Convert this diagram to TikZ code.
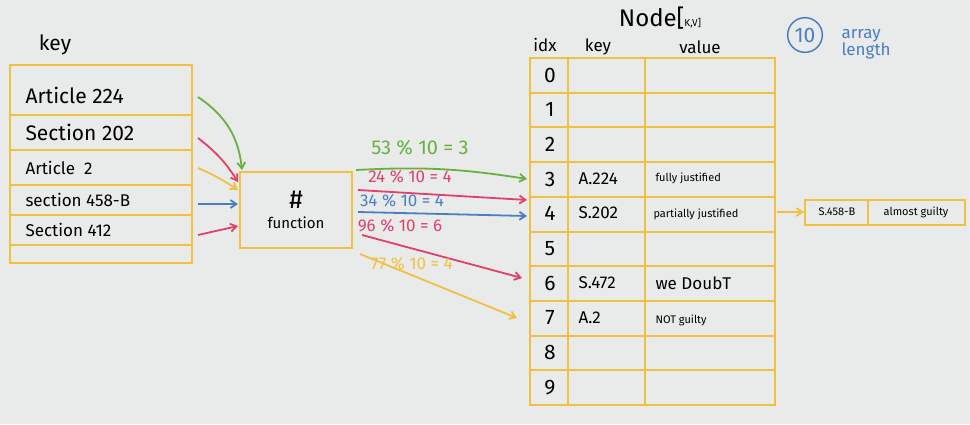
\documentclass[tikz,border=0pt]{standalone}
\usepackage{fontspec}
\setmainfont{Fira Sans}
\usetikzlibrary{arrows.meta}
\definecolor{ye}{HTML}{F0C040}
\definecolor{gr}{HTML}{6AB040}
\definecolor{pk}{HTML}{E0406A}
\definecolor{bl}{HTML}{4A7EC0}
\definecolor{bg}{HTML}{E9EBEA}
\begin{document}
\begin{tikzpicture}[x=1pt,y=-1pt,
  frame/.style={draw=ye,line width=2pt},
  arr/.style={line width=1.8pt,-{Straight Barb[length=6pt,width=8pt]}},
  lab/.style={font=\fontsize{17}{17}\selectfont},
  sm/.style={font=\fontsize{11}{11}\selectfont},
  txt/.style={font=\fontsize{21}{21}\selectfont}]
\useasboundingbox[fill=bg] (0,0) rectangle (970,424);
% key box
\draw[frame] (10,65) rectangle (192,263);
\foreach \y in {115,150,185,215,245} \draw[frame] (10,\y) -- (192,\y);
\node[txt] at (55,45) {key};
\node[txt,anchor=west] (k1) at (22,95) {Article 224};
\node[txt,anchor=west] (k2) at (22,132) {Section 202};
\node[lab,anchor=west] (k3) at (22,168) {Article\ \ 2};
\node[lab,anchor=west] (k4) at (22,200) {section 458-B};
\node[lab,anchor=west] (k5) at (22,230) {Section 412};
\coordinate (o1) at (198,97); \coordinate (o2) at (198,138);
\coordinate (o3) at (198,168); \coordinate (o4) at (198,204);
\coordinate (o5) at (198,235);
% hash
\node[frame,minimum width=112pt,minimum height=76pt,align=center] (h) at (296,210) {\fontsize{26}{26}\selectfont\#\\[8pt]\fontsize{15}{15}\selectfont function};
\coordinate (i1) at (242,170); \coordinate (i2) at (238,182); \coordinate (i3) at (238,190);
\coordinate (i4) at (238,204); \coordinate (i5) at (238,226);
\draw[arr,gr] (o1) to[bend left=25] (i1);
\draw[arr,pk] (o2) to[bend left=10] (i2);
\draw[arr,ye] (o3) to[bend left=5] (i3);
\draw[arr,bl] (o4) -- (i4);
\draw[arr,pk] (o5) -- (i5);
% table
\node[font=\fontsize{24}{24}\selectfont] at (660,18) {Node[\fontsize{10}{10}\selectfont K,V]};
\node[lab] at (545,45) {idx}; \node[lab] at (598,47) {key}; \node[lab] at (700,47) {value};
\draw[frame] (530,58) rectangle (775,405);
\draw[frame] (568,58) -- (568,405); \draw[frame] (645,58) -- (645,405);
\foreach \i in {1,...,9} \draw[frame] (530,{58+34.7*\i}) -- (775,{58+34.7*\i});
\foreach \i in {0,...,9} \node[txt] (r\i) at (550,{75+34.7*\i}) {\i};
\node[lab,anchor=west] at (575,179) {A.224}; \node[sm,anchor=west] at (652,178) {fully justified};
\node[lab,anchor=west] at (575,213) {S.202}; \node[sm,anchor=west] at (650,214) {partially justified};
\node[lab,anchor=west] at (575,283) {S.472}; \node[lab,anchor=west] at (652,283) {we DoubT};
\node[lab,anchor=west] at (575,318) {A.2}; \node[sm,anchor=west] at (652,320) {NOT guilty};
\node[circle,draw=bl,line width=1.5pt,minimum size=34pt,text=bl,txt] at (805,35) {10};
\node[bl,lab,align=left,anchor=west] at (838,44) {array\\length};
% chain
\node[frame,minimum width=160pt,minimum height=25pt] (c) at (885,212) {};
\draw[frame] (868,200) -- (868,224);
\node[sm] at (837,212) {S.458-B}; \node[sm] at (916,212) {almost guilty};
\coordinate (t4) at (777,212);
\draw[arr,ye] (t4) -- (c.west);
% outgoing
\coordinate (s1) at (356,170); \coordinate (s2) at (358,190); \coordinate (s3) at (358,212);
\coordinate (s4) at (362,235); \coordinate (s5) at (360,254);
\coordinate (e3) at (527,179); \coordinate (e4) at (527,200); \coordinate (e4b) at (527,216);
\coordinate (e6) at (522,278); \coordinate (e7) at (517,318);
\draw[arr,gr] (s1) to[bend left=6] (e3);
\draw[arr,pk] (s2) -- (e4);
\draw[arr,bl] (s3) -- (e4b);
\draw[arr,pk] (s4) -- (e6);
\draw[arr,ye] (s5) -- (e7);
\node[gr,font=\fontsize{20}{20}\selectfont] at (420,148) {53 \% 10 = 3};
\node[lab,pk] at (410,177) {24 \% 10 = 4};
\node[lab,bl] at (402,201) {34 \% 10 = 4};
\node[lab,pk] at (400,226) {96 \% 10 = 6};
\node[lab,ye] at (412,264) {77 \% 10 = 4};
\end{tikzpicture}
\end{document}
